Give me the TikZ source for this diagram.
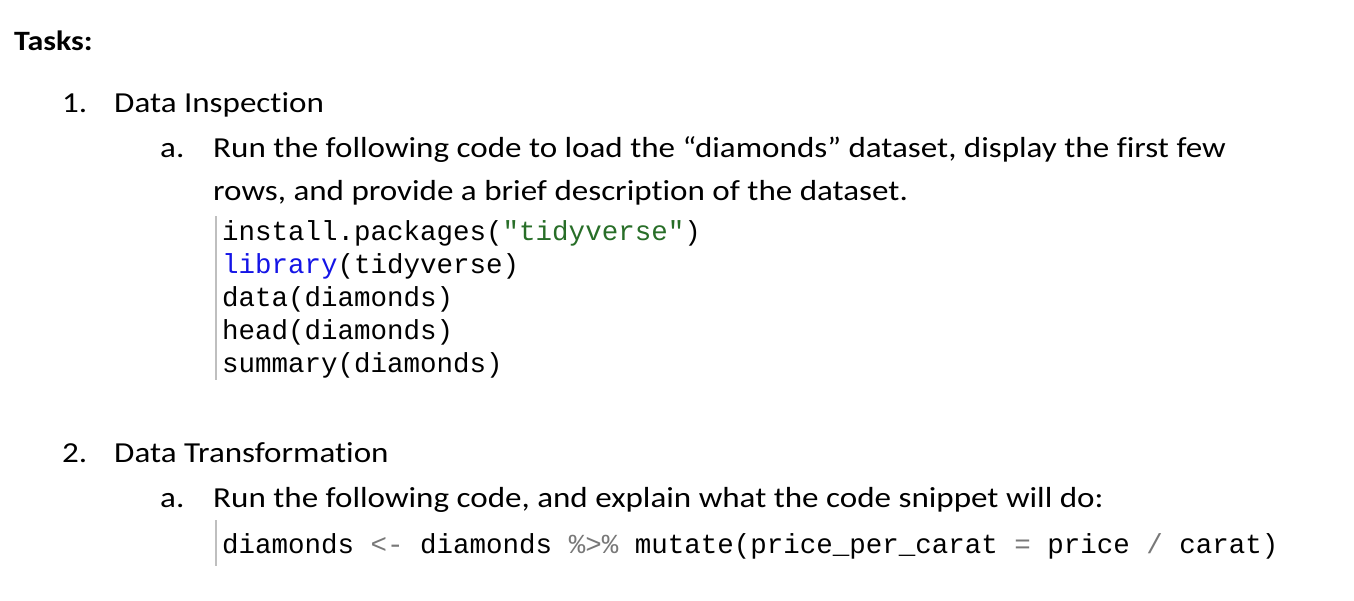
\documentclass[tikz,border=0pt]{standalone}
\usepackage{fontspec}
\setmainfont{Carlito}[Ligatures=NoCommon]
\newfontfamily\codefont{Liberation Mono}
\begin{document}
\begin{tikzpicture}[x=1pt,y=-1pt,
  body/.style={anchor=base west,inner sep=0pt,xscale=1.14,font=\fontsize{29}{30}\selectfont},
  code/.style={anchor=base west,inner sep=0pt,font=\codefont\fontsize{27.5}{30}\selectfont},
  bar/.style={draw=black!25,line width=1.2pt}]
\useasboundingbox (0,0) rectangle (1354,600);
\definecolor{strc}{RGB}{40,110,40}
\definecolor{kwc}{RGB}{20,20,230}
\definecolor{opc}{RGB}{120,120,120}
\node[body,font=\bfseries\fontsize{28}{30}\selectfont] (t) at (14,50) {Tasks:};
\node[body] (n1) at (62,112) {1.};
\node[body] (h1) at (114,112) {Data Inspection};
\node[body] (a1) at (160,157) {a.};
\node[body] (r1) at (213,157) {Run the following code to load the “diamonds” dataset, display the first few};
\node[body] (r2) at (213,200) {rows, and provide a brief description of the dataset.};
\draw[bar] (216,216) -- (216,380);
\node[code] (c1) at (222,240) {install.packages(\textcolor{strc}{"tidyverse"})};
\node[code] (c2) at (222,273) {\textcolor{kwc}{library}(tidyverse)};
\node[code] (c3) at (222,306) {data(diamonds)};
\node[code] (c4) at (222,339) {head(diamonds)};
\node[code] (c5) at (222,372) {summary(diamonds)};
\node[body] (n2) at (62,462) {2.};
\node[body] (h2) at (114,462) {Data Transformation};
\node[body] (a2) at (160,507) {a.};
\node[body] (r3) at (213,507) {Run the following code, and explain what the code snippet will do:};
\draw[bar] (216,520) -- (216,566);
\node[code] (c6) at (222,553) {diamonds \textcolor{opc}{<-} diamonds \textcolor{opc}{\%>\%} mutate(price\_per\_carat \textcolor{opc}{=} price \textcolor{opc}{/} carat)};
\end{tikzpicture}
\end{document}
